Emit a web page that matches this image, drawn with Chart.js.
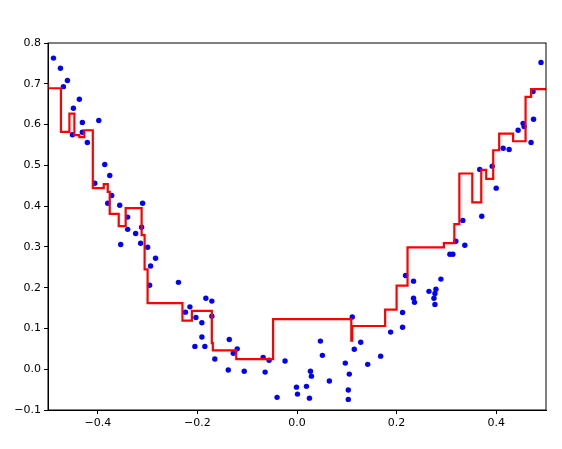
<!DOCTYPE html>
<html>
<head>
<meta charset="utf-8">
<script src="https://cdn.jsdelivr.net/npm/chart.js@4.4.0/dist/chart.umd.min.js"></script>
<style>
  html, body { margin: 0; padding: 0; background: #fff; }
  #wrap { width: 562px; height: 449px; }
</style>
</head>
<body>
<div id="wrap"><canvas id="chart"></canvas></div>
<script>
// scatter samples
const sampleX = [-0.489, -0.475, -0.461, -0.469, -0.437, -0.449, -0.431, -0.431, -0.451, -0.421,
    -0.398, -0.406, -0.386, -0.376, -0.380, -0.372, -0.356, -0.354, -0.340, -0.340,
    -0.324, -0.314, -0.310, -0.312, -0.300, -0.296, -0.284, -0.294, -0.238, -0.224,
    -0.215, -0.203, -0.191, -0.183, -0.171, -0.171, -0.191, -0.205, -0.185, -0.165,
    -0.136, -0.128, -0.120, -0.138, -0.106, -0.068, -0.056, -0.064, -0.040, -0.024,
    -0.001, 0.001, 0.019, 0.027, 0.029, 0.025, 0.047, 0.051, 0.065, 0.097,
    0.105, 0.103, 0.103, 0.111, 0.115, 0.128, 0.142, 0.168, 0.188, 0.212,
    0.212, 0.218, 0.234, 0.234, 0.236, 0.265, 0.275, 0.277, 0.279, 0.277,
    0.289, 0.307, 0.313, 0.319, 0.337, 0.333, 0.371, 0.367, 0.392, 0.400,
    0.414, 0.426, 0.444, 0.454, 0.456, 0.470, 0.475, 0.474, 0.490];
const sampleY = [0.763, 0.738, 0.708, 0.693, 0.662, 0.640, 0.605, 0.581, 0.575, 0.556,
    0.610, 0.456, 0.502, 0.475, 0.407, 0.426, 0.402, 0.306, 0.373, 0.343,
    0.333, 0.309, 0.407, 0.348, 0.299, 0.206, 0.272, 0.253, 0.213, 0.140,
    0.153, 0.127, 0.114, 0.174, 0.167, 0.130, 0.079, 0.056, 0.056, 0.025,
    0.073, 0.039, 0.050, -0.002, -0.005, 0.029, 0.022, -0.007, -0.069, 0.020,
    -0.044, -0.061, -0.042, -0.005, -0.017, -0.071, 0.069, 0.034, -0.029, 0.015,
    -0.012, -0.051, -0.074, 0.128, 0.049, 0.066, 0.012, 0.032, 0.091, 0.103,
    0.139, 0.230, 0.216, 0.174, 0.164, 0.191, 0.174, 0.186, 0.196, 0.159,
    0.221, 0.282, 0.282, 0.314, 0.304, 0.365, 0.375, 0.490, 0.498, 0.444,
    0.542, 0.539, 0.586, 0.603, 0.595, 0.556, 0.613, 0.681, 0.752];

// tree prediction: each value holds from its x until the next x
const stepX = [-0.5, -0.474, -0.457, -0.447, -0.437, -0.427, -0.410, -0.388, -0.380, -0.376,
    -0.358, -0.344, -0.312, -0.306, -0.300, -0.230, -0.211, -0.171, -0.169, -0.122,
    -0.048, 0.109, 0.111, 0.177, 0.200, 0.222, 0.295, 0.316, 0.326, 0.352,
    0.370, 0.380, 0.394, 0.406, 0.434, 0.459, 0.470, 0.482, 0.5];
const stepY = [0.705, 0.689, 0.582, 0.627, 0.574, 0.569, 0.586, 0.444, 0.454, 0.435,
    0.381, 0.351, 0.395, 0.329, 0.245, 0.162, 0.119, 0.143, 0.064, 0.046,
    0.025, 0.123, 0.070, 0.106, 0.146, 0.205, 0.299, 0.309, 0.356, 0.480,
    0.409, 0.489, 0.467, 0.537, 0.578, 0.559, 0.668, 0.687, 0.687];

const xTicks = [-0.4, -0.2, 0.0, 0.2, 0.4];

const scatterPts = sampleX.map((x, i) => ({ x: x, y: sampleY[i] }));
const stepPts = stepX.map((x, i) => ({ x: x, y: stepY[i] }));

const frame = {
    id: 'frame',
    afterDraw(chart) {
        const a = chart.chartArea, c = chart.ctx;
        c.save();
        c.strokeStyle = '#000';
        c.lineWidth = 1;
        c.strokeRect(a.left, a.top, a.right - a.left, a.bottom - a.top);
        c.restore();
    }
};

const tickFont = { family: 'DejaVu Sans', size: 11 };

new Chart(document.getElementById('chart'), {
    type: 'scatter',
    data: {
        datasets: [
            {
                data: stepPts,
                showLine: true,
                stepped: 'after',
                borderColor: '#ff0000',
                borderWidth: 2.2,
                pointRadius: 0,
                fill: false,
                order: 1
            },
            {
                data: scatterPts,
                backgroundColor: '#0000ff',
                borderWidth: 0,
                pointRadius: 2.7,
                order: 2
            }
        ]
    },
    plugins: [frame],
    options: {
        responsive: true,
        maintainAspectRatio: false,
        animation: false,
        layout: { padding: { left: 0, right: 16, top: 43, bottom: 0 } },
        plugins: { legend: { display: false }, tooltip: { enabled: false } },
        scales: {
            x: {
                type: 'linear', min: -0.5, max: 0.5,
                afterBuildTicks: s => { s.ticks = xTicks.map(v => ({ value: v })); },
                afterFit: s => { s.height = 39; },
                grid: { drawOnChartArea: false, color: '#000', tickLength: 4 },
                border: { color: '#000' },
                ticks: { color: '#000', font: tickFont, padding: 3, maxRotation: 0,
                    callback: v => v.toFixed(1).replace('-', '\u2212') }
            },
            y: {
                type: 'linear', min: -0.1, max: 0.8,
                afterFit: s => { s.width = 48; },
                grid: { drawOnChartArea: false, color: '#000', tickLength: 4 },
                border: { color: '#000' },
                ticks: { color: '#000', font: tickFont, padding: 3, stepSize: 0.1,
                    callback: v => v.toFixed(1).replace('-', '\u2212') }
            }
        }
    }
});
</script>
</body>
</html>
